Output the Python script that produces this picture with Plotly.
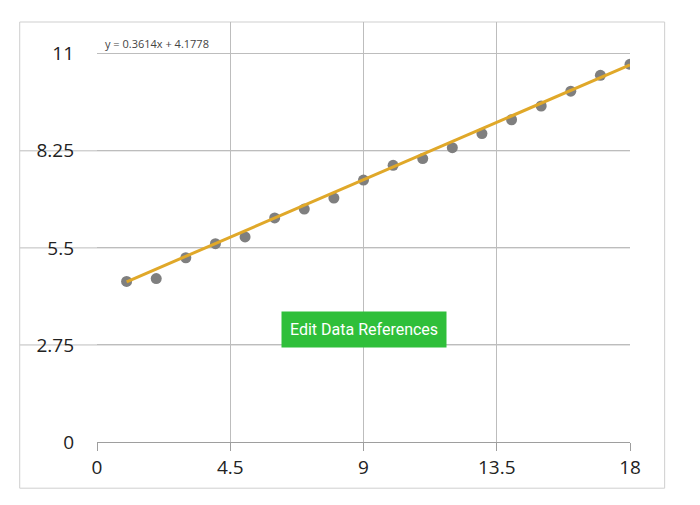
import plotly.graph_objects as go

x_vals = list(range(1, 19))
y_vals = [4.55, 4.63, 5.22, 5.62, 5.81, 6.35, 6.60, 6.91, 7.42, 7.84,
          8.03, 8.34, 8.74, 9.13, 9.52, 9.94, 10.39, 10.70]
slope, intercept = 0.3614, 4.1778
x_ticks = [0, 4.5, 9, 13.5, 18]
x_tick_text = ["0", "4.5", "9", "13.5", "18"]
y_ticks = [0, 2.75, 5.5, 8.25, 11]
y_tick_text = ["0", "2.75", "5.5", "8.25", "11"]

fig = go.Figure()
fig.add_trace(go.Scatter(x=x_vals, y=y_vals, mode="markers",
                         marker=dict(color="#7f7f7f", size=11)))
fig.add_trace(go.Scatter(x=[x_vals[0], x_vals[-1]],
                         y=[slope * x_vals[0] + intercept, slope * x_vals[-1] + intercept],
                         mode="lines", line=dict(color="#e0a829", width=3)))

# grid lines run out to the left frame edge
for yv in y_ticks[1:4]:
    fig.add_shape(type="line", xref="paper", yref="y", x0=-0.145, x1=1, y0=yv, y1=yv,
                  line=dict(color="#bdbdbd", width=1), layer="below")
fig.add_shape(type="rect", xref="paper", yref="paper", x0=-0.145, x1=1.065, y0=-0.11, y1=1,
              line=dict(color="#cfcfcf", width=1), layer="below")

fig.add_annotation(x=0.2, y=11.3, xref="x", yref="y", text="y = 0.3614x + 4.1778",
                   showarrow=False, xanchor="left", font=dict(size=11, color="#444"))
fig.add_annotation(x=9, y=3.2, xref="x", yref="y", text="Edit Data References",
                   showarrow=False, bgcolor="#2fbf3a", borderpad=8,
                   font=dict(size=16, color="white", family="Roboto"))

fig.update_xaxes(range=[0, 18], tickvals=x_ticks, ticktext=x_tick_text,
                 showgrid=True, gridcolor="#bdbdbd", zeroline=False,
                 showline=True, linecolor="#9e9e9e", ticks="outside", ticklen=8,
                 tickcolor="#9e9e9e", tickfont=dict(size=19, color="#222"))
fig.update_yaxes(range=[0, 11.9], tickvals=y_ticks, ticktext=y_tick_text,
                 showgrid=True, gridcolor="#bdbdbd", zeroline=False,
                 ticklabelstandoff=22, tickfont=dict(size=19, color="#222"))
fig.update_layout(width=700, height=505, showlegend=False,
                  margin=dict(l=89, r=78, t=14, b=71),
                  plot_bgcolor="white", paper_bgcolor="white",
                  font=dict(family="Open Sans"))
fig.write_html("out.html")
